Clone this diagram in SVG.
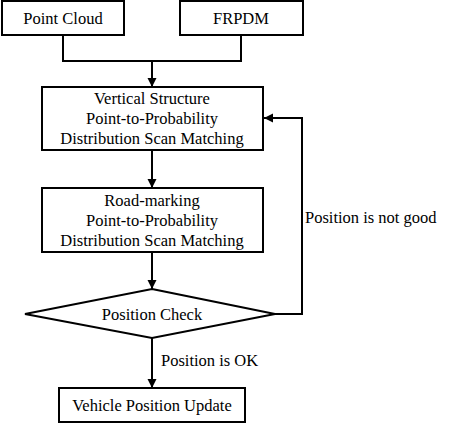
<svg xmlns="http://www.w3.org/2000/svg" width="474" height="426" viewBox="0 0 474 426">
<style>
.n{fill:#fff;stroke:#000;stroke-width:2}
.c{fill:none;stroke:#000;stroke-width:2}
text{font-family:"Liberation Serif","Times New Roman",serif;font-size:16.5px;fill:#000;text-anchor:middle}
.l{text-anchor:start}
</style>
<defs>
<marker id="a" markerWidth="10" markerHeight="10" refX="9" refY="5" orient="auto" markerUnits="userSpaceOnUse">
<path d="M0,0.5 L9,5 L0,9.5 Z" fill="#000"/>
</marker>
</defs>
<rect width="474" height="426" fill="#fff"/>
<g id="connectors">
<path class="c" d="M63,35 V61 H241 V35"/>
<path class="c" d="M152,61 V87" marker-end="url(#a)"/>
<path class="c" d="M152,150 V188" marker-end="url(#a)"/>
<path class="c" d="M152,252 V289" marker-end="url(#a)"/>
<path class="c" d="M275,314 H302 V118 H264" marker-end="url(#a)"/>
<path class="c" d="M152,338 V388" marker-end="url(#a)"/>
<text class="l" x="305" y="223">Position is not good</text>
<text class="l" x="161" y="366">Position is OK</text>
</g>
<g id="point-cloud">
<rect class="n" x="2" y="1" width="122" height="34"/>
<text x="63" y="24">Point Cloud</text>
</g>
<g id="frpdm">
<rect class="n" x="180" y="1" width="123" height="34"/>
<text x="241" y="24">FRPDM</text>
</g>
<g id="vertical-structure">
<rect class="n" x="42" y="87" width="221" height="63"/>
<text x="152" y="104">Vertical Structure</text>
<text x="152" y="124">Point-to-Probability</text>
<text x="152" y="144">Distribution Scan Matching</text>
</g>
<g id="road-marking">
<rect class="n" x="42" y="188" width="221" height="64"/>
<text x="152" y="206">Road-marking</text>
<text x="152" y="226">Point-to-Probability</text>
<text x="152" y="246">Distribution Scan Matching</text>
</g>
<g id="position-check">
<path class="n" d="M152,289 L275,314 L152,338 L25,314 Z"/>
<text x="152" y="320">Position Check</text>
</g>
<g id="vehicle-update">
<rect class="n" x="59" y="388" width="186" height="34"/>
<text x="152" y="411">Vehicle Position Update</text>
</g>
</svg>
